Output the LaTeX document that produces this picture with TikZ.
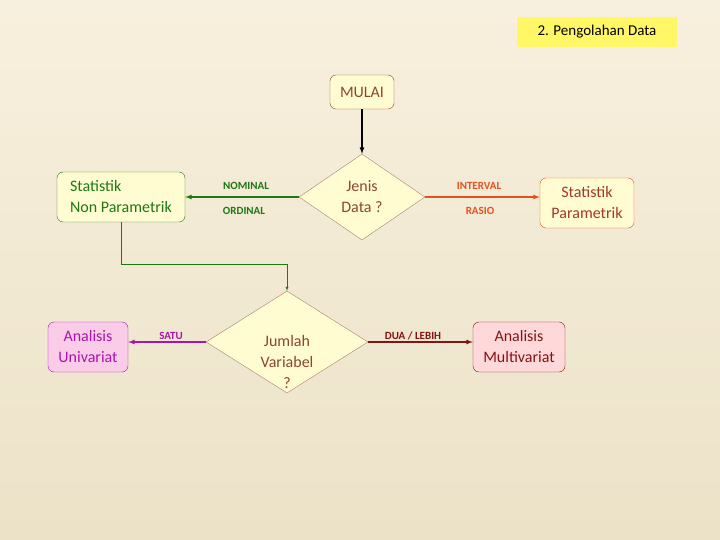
\documentclass[tikz,border=0pt]{standalone}
\usepackage{fontspec}
\setmainfont{Carlito}
\usetikzlibrary{shapes.geometric}
\definecolor{bgtop}{RGB}{248,240,222}
\definecolor{bgbot}{RGB}{236,226,200}
\definecolor{boxfill}{RGB}{255,252,210}
\definecolor{npgreen}{RGB}{30,120,20}
\definecolor{porange}{RGB}{230,80,30}
\definecolor{uvpurple}{RGB}{170,20,170}
\definecolor{mvred}{RGB}{130,20,20}
\definecolor{txtbrown}{RGB}{140,70,50}
\tikzset{
  proc/.style={draw, rounded corners=6pt, fill=boxfill, align=center, font=\fontsize{16}{21}\selectfont, inner sep=2pt},
  decide/.style={draw=txtbrown!70, diamond, fill=boxfill, text=txtbrown, align=center, aspect=1.45, inner sep=0pt, font=\fontsize{16}{21}\selectfont},
  lbl/.style={font=\bfseries\fontsize{11}{13}\selectfont}
}
\begin{document}
\begin{tikzpicture}[x=1pt,y=-1pt]
\shade[top color=bgtop, bottom color=bgbot] (0,0) rectangle (720,540);
\useasboundingbox (0,0) rectangle (720,540);

% Title
\node[fill=yellow!60, font=\fontsize{15}{17}\selectfont, minimum width=160, minimum height=30] (title) at (597,32) {2. Pengolahan Data};

% Boxes
\node[proc, draw=txtbrown, text=txtbrown, minimum width=64, minimum height=34] (mulai) at (362,92) {MULAI};
\node[decide, minimum width=126, minimum height=86] (jenis) at (362,197) {Jenis\\Data ?};
\node[proc, draw=npgreen, text=npgreen, minimum width=128, minimum height=50, align=left] (nonpar) at (121,197) {Statistik\\Non Parametrik};
\node[proc, draw=porange, text=txtbrown!80!red, minimum width=94, minimum height=50] (par) at (587,203) {Statistik\\Parametrik};
\node[decide, minimum width=162, minimum height=102] (jumlah) at (287,342) {};
\node[text=txtbrown, align=center, font=\fontsize{16}{21}\selectfont] (jtext) at (287,362) {Jumlah\\Variabel\\?};
\node[proc, draw=uvpurple, fill=magenta!20, text=uvpurple, minimum width=80, minimum height=50] (univ) at (88,347) {Analisis\\Univariat};
\node[proc, draw=mvred, fill=red!15, text=mvred, minimum width=92, minimum height=50] (multi) at (519,347) {Analisis\\Multivariat};

% Connectors
\draw[-latex, very thick] (mulai) -- (jenis);
\draw[-latex, very thick, npgreen] (jenis.west) -- (nonpar.east |- jenis.west);
\draw[-latex, very thick, porange] (jenis.east) -- (par.west |- jenis.east);
\draw[-latex, npgreen] (nonpar.south) |- (287,264) -- (jumlah.north);
\draw[-latex, very thick, uvpurple] (jumlah.west) -- (univ.east |- jumlah.west);
\draw[-latex, very thick, mvred] (jumlah.east) -- (multi.west |- jumlah.east);

% Labels
\node[lbl, npgreen] (nom) at (246,186) {NOMINAL};
\node[lbl, npgreen] (ord) at (244,211) {ORDINAL};
\node[lbl, porange] (intv) at (479,186) {INTERVAL};
\node[lbl, porange] (ras) at (480,211) {RASIO};
\node[lbl, uvpurple] (satu) at (171,336) {SATU};
\node[lbl, mvred] (dua) at (413,336) {DUA / LEBIH};
\end{tikzpicture}
\end{document}
